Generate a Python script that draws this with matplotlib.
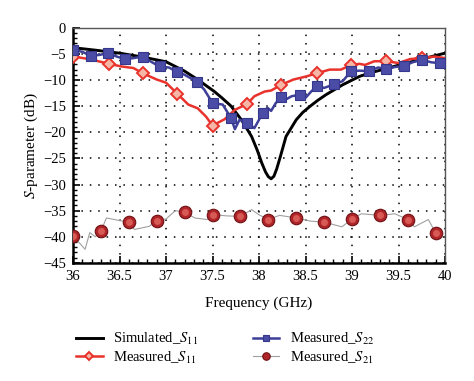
import numpy as np
import matplotlib
matplotlib.use("Agg")
import matplotlib.pyplot as plt

plt.rcParams['font.family'] = ['Liberation Serif', 'DejaVu Serif']
plt.rcParams['mathtext.fontset'] = 'stix'

# Simulated S11
sim_f = [36.0, 36.25, 36.5, 36.75, 37.0, 37.2, 37.34, 37.52, 37.6, 37.7, 37.81, 37.92,
         37.98, 38.03, 38.07, 38.1, 38.13, 38.16, 38.19, 38.23, 38.29, 38.4, 38.47, 38.55, 38.63,
         38.72, 38.9, 39.08, 39.2, 39.39, 39.55, 39.75, 39.9, 40.0]
sim_db = [-3.8, -4.3, -4.85, -5.6, -6.5, -8.3, -9.9, -12.2, -13.4, -15.0, -17.6, -20.8,
          -23.4, -25.9, -27.6, -28.5, -28.9, -28.4, -27.0, -24.6, -20.8, -17.6, -16.2, -15.0, -13.9,
          -12.8, -10.9, -9.3, -8.6, -7.7, -6.9, -6.0, -5.3, -4.85]

# Measured S11
s11_f = [36.0, 36.18, 36.39, 36.52, 36.65, 36.75, 36.9, 37.0, 37.12, 37.24, 37.34, 37.43,
         37.5, 37.63, 37.74, 37.87, 37.95, 38.06, 38.13, 38.24, 38.37, 38.51, 38.62,
         38.76, 38.88, 38.99, 39.08, 39.14, 39.24, 39.37, 39.5, 39.62, 39.75, 39.89, 40.0]
s11_db = [-5.5, -6.0, -6.9, -7.4, -7.7, -8.7, -9.9, -10.5, -12.6, -14.7, -15.4, -17.0,
          -18.7, -17.5, -15.7, -14.6, -13.1, -12.2, -12.0, -10.9, -9.9, -9.3, -8.7,
          -8.0, -8.0, -7.1, -6.9, -7.1, -6.4, -6.4, -6.75, -6.0, -5.75, -5.5, -5.8]
s11_mark_f = [36.0, 36.39, 36.75, 37.12, 37.5, 37.87, 38.24, 38.62, 38.99, 39.37, 39.75]

# Measured S22
s22_f = [36.0, 36.1, 36.19, 36.28, 36.38, 36.47, 36.56, 36.65, 36.75, 36.84, 36.93, 37.03,
         37.12, 37.2, 37.33, 37.41, 37.5, 37.61, 37.7, 37.74, 37.79, 37.87, 37.95, 38.04,
         38.09, 38.13, 38.18, 38.24, 38.3, 38.35, 38.44, 38.5, 38.56, 38.62, 38.7, 38.81,
         38.9, 38.99, 39.08, 39.18, 39.28, 39.37, 39.46, 39.56, 39.65, 39.75, 39.85,
         39.94, 40.0]
s22_db = [-4.2, -4.6, -5.35, -5.2, -4.85, -5.5, -6.0, -5.8, -5.5, -6.5, -7.4, -7.6,
          -8.4, -9.0, -10.3, -11.8, -14.4, -14.7, -17.3, -19.4, -17.6, -18.2, -19.2, -16.3,
          -15.3, -15.9, -14.4, -13.3, -13.6, -13.1, -12.8, -13.4, -12.2, -11.2, -11.5, -10.8,
          -10.2, -8.3, -8.2, -8.3, -7.6, -7.9, -7.5, -7.3, -6.6, -6.1, -6.6,
          -6.75, -6.8]
s22_mark_f = [36.0, 36.19, 36.38, 36.56, 36.75, 36.93, 37.12, 37.33, 37.5, 37.7, 37.87,
              38.04, 38.24, 38.44, 38.62, 38.81, 38.99, 39.18, 39.37, 39.56, 39.75, 39.94]

# Measured S21
s21_f = [36.0, 36.13, 36.18, 36.24, 36.3, 36.36, 36.5, 36.6, 36.66, 36.82, 36.9, 37.0,
         37.1, 37.2, 37.31, 37.44, 37.5, 37.65, 37.8, 37.92, 38.0, 38.1, 38.22, 38.4,
         38.55, 38.7, 38.89, 39.0, 39.1, 39.3, 39.46, 39.6, 39.67, 39.82, 39.9]
s21_db = [-39.8, -42.4, -39.2, -40.0, -38.9, -36.4, -36.9, -37.2, -38.6, -38.0, -36.9, -36.6,
          -35.0, -35.3, -36.4, -36.7, -35.75, -36.0, -36.1, -34.8, -35.8, -36.7, -35.9, -36.4,
          -37.0, -37.2, -38.1, -36.6, -35.6, -35.9, -35.6, -36.7, -38.1, -36.7, -39.3]
s21_mark_f = [36.0, 36.3, 36.6, 36.9, 37.2, 37.5, 37.8, 38.1, 38.4, 38.7, 39.0, 39.3, 39.6, 39.9]

x_ticks = [36, 36.5, 37, 37.5, 38, 38.5, 39, 39.5, 40]
x_ticklabels = ['36', '36.5', '37', '37.5', '38', '38.5', '39', '39.5', '40']
y_ticks = [0, -5, -10, -15, -20, -25, -30, -35, -40, -45]
y_ticklabels = ['0', '\u22125', '\u221210', '\u221215', '\u221220', '\u221225', '\u221230',
                '\u221235', '\u221240', '\u221245']


def idx(fs, marks):
    fs = np.asarray(fs)
    return [int(np.argmin(np.abs(fs - m))) for m in marks]


fig = plt.figure(figsize=(4.74, 3.81), dpi=100)
ax = fig.add_axes([0.154, 0.310, 0.785, 0.617])

ax.plot(sim_f, sim_db, color='black', lw=2.1, label='Simulated_$S_{11}$', zorder=3,
        solid_joinstyle='round')
ax.plot(s11_f, s11_db, color='#e8322b', lw=1.8, marker='D', markersize=6.5,
        markerfacecolor='#f6b6a6', markeredgecolor='#e8322b', markeredgewidth=1.4,
        markevery=idx(s11_f, s11_mark_f), label='Measured_$S_{11}$', zorder=4)
ax.plot(s22_f, s22_db, color='#3d3f98', lw=1.8, marker='s', markersize=7.5,
        markerfacecolor='#4a4ca6', markeredgecolor='#35378c', markeredgewidth=0.8,
        markevery=idx(s22_f, s22_mark_f), label='Measured_$S_{22}$', zorder=5)
ax.plot(s21_f, s21_db, color='#a0a0a0', lw=0.8, marker='o', markersize=9,
        markerfacecolor='#b0252a', markeredgecolor='#6e1012', markeredgewidth=0.8,
        markevery=idx(s21_f, s21_mark_f), label='Measured_$S_{21}$', zorder=5)
# highlight on spheres
mi = idx(s21_f, s21_mark_f)
ax.plot([s21_f[i] for i in mi], [s21_db[i] for i in mi], ls='none', marker='o',
        markersize=5, markerfacecolor='#d85a55', markeredgecolor='none', zorder=6)

ax.set_xlim(36, 40)
ax.set_ylim(-45, 0)
ax.set_xticks(x_ticks)
ax.set_xticklabels(x_ticklabels, fontsize=10.5)
ax.set_yticks(y_ticks)
ax.set_yticklabels(y_ticklabels, fontsize=10.5)
ax.set_xticks(np.arange(36, 40.001, 0.1), minor=True)
ax.set_yticks(np.arange(-45, 0.001, 1), minor=True)
ax.tick_params(which='both', direction='in', top=False, right=False, color='black')
ax.tick_params(which='major', length=5, width=1.2, pad=5)
ax.tick_params(which='minor', length=3, width=1.0)

ax.grid(True, which='major', color='black', linestyle=(0, (1, 4.5)), linewidth=1.1)

for s in ['left', 'bottom']:
    ax.spines[s].set_linewidth(1.8)
    ax.spines[s].set_color('black')
for s in ['top', 'right']:
    ax.spines[s].set_linewidth(1.0)
    ax.spines[s].set_color('#555555')

ax.set_xlabel('Frequency (GHz)', fontsize=11, labelpad=10)
ax.set_ylabel('$S$-parameter (dB)', fontsize=11, labelpad=2)

handles, labels = ax.get_legend_handles_labels()
fig.legend(handles, labels, ncol=2, loc='upper center', bbox_to_anchor=(0.475, 0.165),
           frameon=False, fontsize=10.5, handlelength=1.8, handletextpad=0.7,
           columnspacing=3.8, labelspacing=0.15, markerscale=0.6)

fig.savefig('out.png', dpi=100)
